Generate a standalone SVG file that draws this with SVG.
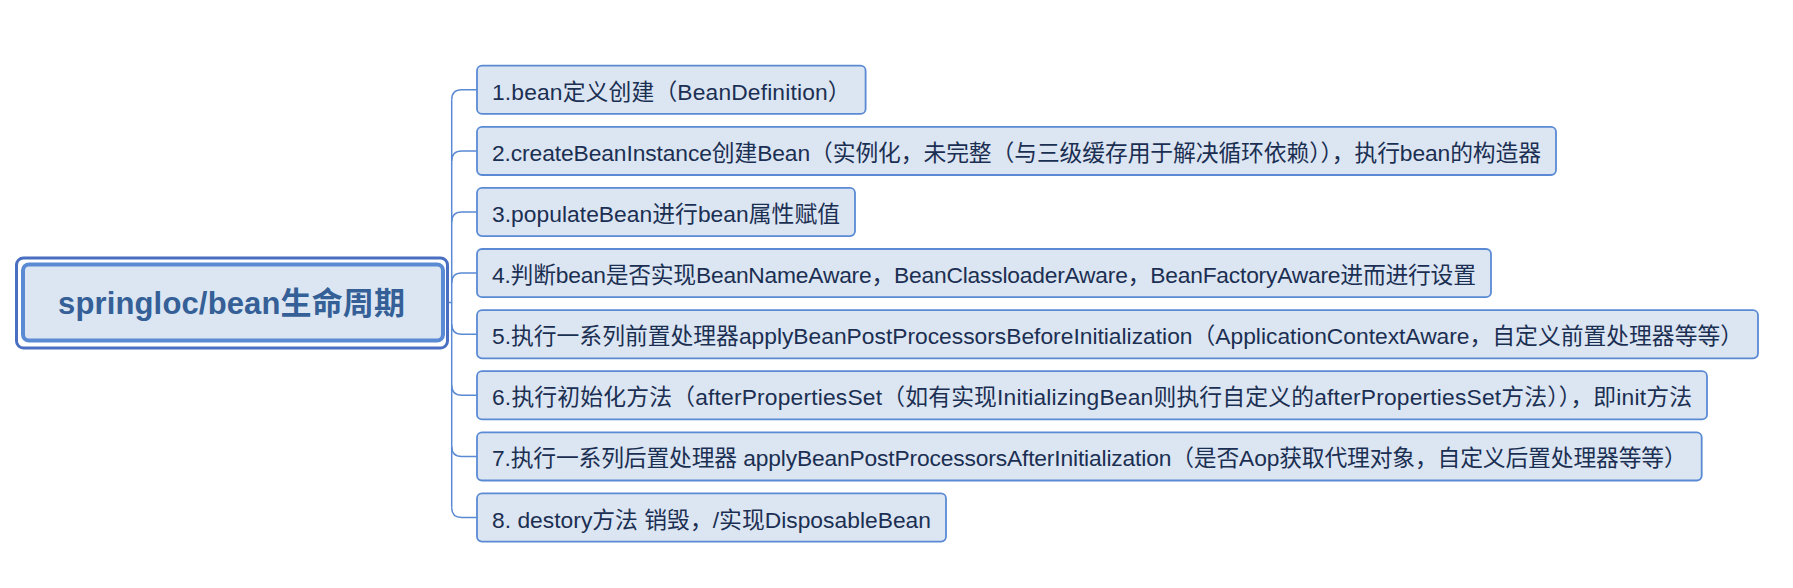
<svg xmlns="http://www.w3.org/2000/svg" width="1793" height="588" viewBox="0 0 1793 588">
<style>
.box{fill:#dce6f2;stroke:#5a8ad4;stroke-width:1.8}
.lbl{font-family:"Liberation Sans","Noto Sans CJK SC",sans-serif;font-size:22.8px;fill:#1b2f52}
.root-outer{fill:none;stroke:#4a6fc2;stroke-width:3}
.root-inner{fill:#dce6f2;stroke:#5a8ad4;stroke-width:4}
.root-lbl{font-family:"Liberation Sans","Noto Sans CJK SC",sans-serif;font-size:31px;font-weight:bold;fill:#355f97}
.conn{fill:none;stroke:#5a8ad4;stroke-width:1.5}
</style>
<rect width="1793" height="588" fill="#ffffff"/>
<g id="connectors">
<path class="conn" d="M448 302.5H451.7"/>
<path class="conn" d="M451.7 99.8V507.5"/>
<path class="conn" d="M451.7 99.8Q451.7 89.8 461.7 89.8H477"/>
<path class="conn" d="M451.7 160.9Q451.7 150.9 461.7 150.9H477"/>
<path class="conn" d="M451.7 222Q451.7 212 461.7 212H477"/>
<path class="conn" d="M451.7 283.1Q451.7 273.1 461.7 273.1H477"/>
<path class="conn" d="M451.7 324.2Q451.7 334.2 461.7 334.2H477"/>
<path class="conn" d="M451.7 385.3Q451.7 395.3 461.7 395.3H477"/>
<path class="conn" d="M451.7 446.4Q451.7 456.4 461.7 456.4H477"/>
<path class="conn" d="M451.7 507.5Q451.7 517.5 461.7 517.5H477"/>
</g>
<g id="root">
<rect class="root-outer" x="16.5" y="258" width="431" height="90" rx="7"/>
<rect class="root-inner" x="23" y="264.5" width="420" height="76" rx="6"/>
<text class="root-lbl" x="58" y="314" textLength="347">springloc/bean生命周期</text>
</g>
<g id="n1">
<rect class="box" x="477" y="65.7" width="388.6" height="48.2" rx="5"/>
<text class="lbl" x="492" y="99.8" textLength="358.6">1.bean定义创建（BeanDefinition）</text>
</g>
<g id="n2">
<rect class="box" x="477" y="126.8" width="1079" height="48.2" rx="5"/>
<text class="lbl" x="492" y="160.9" textLength="1049">2.createBeanInstance创建Bean（实例化，未完整（与三级缓存用于解决循环依赖）），执行bean的构造器</text>
</g>
<g id="n3">
<rect class="box" x="477" y="187.9" width="378" height="48.2" rx="5"/>
<text class="lbl" x="492" y="222" textLength="348">3.populateBean进行bean属性赋值</text>
</g>
<g id="n4">
<rect class="box" x="477" y="249" width="1014" height="48.2" rx="5"/>
<text class="lbl" x="492" y="283.1" textLength="984">4.判断bean是否实现BeanNameAware，BeanClassloaderAware，BeanFactoryAware进而进行设置</text>
</g>
<g id="n5">
<rect class="box" x="477" y="310.1" width="1281" height="48.2" rx="5"/>
<text class="lbl" x="492" y="344.2" textLength="1251">5.执行一系列前置处理器applyBeanPostProcessorsBeforeInitialization（ApplicationContextAware，自定义前置处理器等等）</text>
</g>
<g id="n6">
<rect class="box" x="477" y="371.2" width="1230" height="48.2" rx="5"/>
<text class="lbl" x="492" y="405.3" textLength="1200">6.执行初始化方法（afterPropertiesSet（如有实现InitializingBean则执行自定义的afterPropertiesSet方法）），即init方法</text>
</g>
<g id="n7">
<rect class="box" x="477" y="432.3" width="1224.7" height="48.2" rx="5"/>
<text class="lbl" x="492" y="466.4" textLength="1194.7">7.执行一系列后置处理器 applyBeanPostProcessorsAfterInitialization（是否Aop获取代理对象，自定义后置处理器等等）</text>
</g>
<g id="n8">
<rect class="box" x="477" y="493.4" width="469" height="48.2" rx="5"/>
<text class="lbl" x="492" y="527.5" textLength="439">8. destory方法 销毁，/实现DisposableBean</text>
</g>
</svg>
